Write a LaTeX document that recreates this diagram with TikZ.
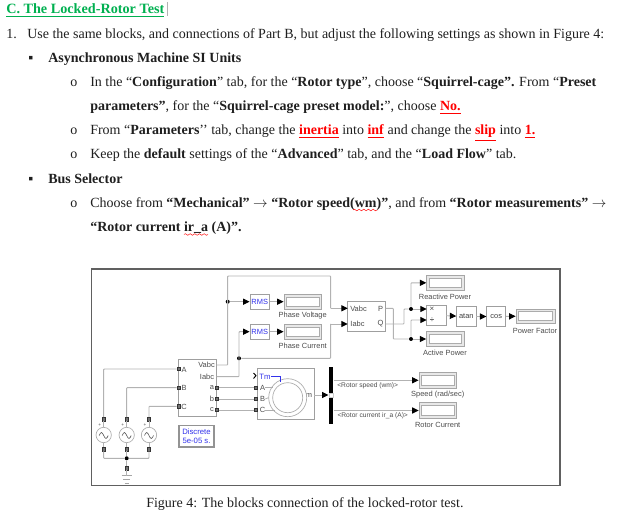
\documentclass[tikz,border=0pt]{standalone}
\usepackage{fontspec}
\setmainfont{Liberation Serif}
\newfontfamily\simfont{Liberation Sans}
\usetikzlibrary{arrows.meta,decorations.pathmorphing}
\definecolor{titlegreen}{RGB}{0,176,80}
\definecolor{simblue}{RGB}{50,50,235}
\newcommand{\redu}[1]{\textcolor{red}{\underline{\textbf{#1}}}}
\tikzset{
  txt/.style={anchor=base west,inner sep=0pt,font=\fontsize{10.5}{12}\selectfont,text=black!88},
  sz/.style 2 args={minimum width=#1*0.75pt,minimum height=#2*0.75pt},
  blk/.style={draw=gray!75,line width=0.6pt,fill=white,inner sep=0pt,font=\simfont\fontsize{5.6}{6}\selectfont,text=black!75},
  disp/.style={blk,draw=gray!70,fill=gray!18,path picture={\draw[gray!65,line width=0.35pt,fill=white]
    ([shift={(2pt,2pt)}]path picture bounding box.south west) rectangle ([shift={(-2pt,-2pt)}]path picture bounding box.north east);}},
  lab/.style={inner sep=0pt,font=\simfont\fontsize{5.6}{6}\selectfont,text=black!70},
  slab/.style={lab,font=\simfont\fontsize{5}{5.5}\selectfont},
  bluelab/.style={lab,text=simblue,font=\simfont\fontsize{5.8}{7}\selectfont},
  wire/.style={draw=gray!60,line width=0.7pt,rounded corners=0.5pt},
  sig/.style={wire,-{Triangle[length=4.8pt,width=4.6pt,black]}},
  port/.style={draw=black!80,fill=black!55,line width=0.5pt,inner sep=0pt,minimum size=2.6pt},
  dot/.style={circle,fill=black,inner sep=0pt,minimum size=3pt},
  src/.style={circle,draw=gray!65,line width=0.5pt,fill=white,minimum size=11.5pt,inner sep=0pt},
}
\begin{document}
\begin{tikzpicture}[x=0.75pt,y=-0.75pt]
\useasboundingbox (0,0) rectangle (625,516);

% document text
\node[txt,font=\fontsize{10.65}{12}\selectfont\bfseries,text=titlegreen] (title) at (6,14) {\underline{C. The Locked-Rotor Test}};
\draw[gray!60,line width=0.4pt] (167,2) -- (167,16);
\node[txt] (n1) at (6,38.5) {1.};
\node[txt] (l1) at (27,38.5) {Use the same blocks, and connections of Part B, but adjust the following settings as shown in Figure 4:};
\node[txt] (b1) at (28,62.7) {\textbf{▪}};
\node[txt] (l2) at (48,62.7) {\textbf{Asynchronous Machine SI Units}};
\node[txt] (o1) at (70,86.7) {o};
\node[txt] (l3) at (90,86.7) {In the “\textbf{Configuration}” tab, for the “\textbf{Rotor type}”, choose “\textbf{Squirrel-cage”.} From “\textbf{Preset}};
\node[txt] (l4) at (90,111) {\textbf{parameters”}, for the “\textbf{Squirrel-cage preset model:}”, choose \redu{No.}};
\node[txt] (o2) at (70,135) {o};
\node[txt] (l5) at (90,135) {From “\textbf{Parameters}’’ tab, change the \redu{inertia} into \redu{inf} and change the \redu{slip} into \redu{1.}};
\node[txt] (o3) at (70,158.7) {o};
\node[txt] (l6) at (90,158.7) {Keep the \textbf{default} settings of the “\textbf{Advanced}” tab, and the “\textbf{Load Flow}” tab.};
\node[txt] (b2) at (28,183.3) {\textbf{▪}};
\node[txt] (l7) at (48,183.3) {\textbf{Bus Selector}};
\node[txt] (o4) at (70,207.7) {o};
\node[txt] (l8) at (90,207.7) {Choose from \textbf{“Mechanical”} $\rightarrow$ \textbf{“Rotor speed(wm)”}, and from \textbf{“Rotor measurements”} $\rightarrow$};
\node[txt] (l9) at (90,231.7) {\textbf{“Rotor current ir\_a (A)”.}};
\draw[red,line width=0.35pt,decorate,decoration={snake,amplitude=0.6pt,segment length=3.5pt}] (353,210) -- (378,210);
\draw[red,line width=0.35pt,decorate,decoration={snake,amplitude=0.6pt,segment length=3.5pt}] (184,234.5) -- (208,234.5);
\node[txt] (cap) at (146,508) {Figure 4: The blocks connection of the locked-rotor test.};

% model frame
\draw[gray!75!black,line width=0.9pt] (91.5,269) rectangle (560,485.5);

% blocks
\node[blk,sz={38}{57.7}] (meas) at (197.7,387.8) {};
\node[blk,sz={19.5}{15.5},text=simblue] (rms1) at (259.7,301.7) {RMS};
\node[blk,sz={19.5}{15.5},text=simblue] (rms2) at (259.7,331.7) {RMS};
\node[disp,sz={37.7}{15}] (dV) at (302.8,301.7) {};
\node[disp,sz={37.7}{15}] (dI) at (302.8,331.7) {};
\node[blk,sz={38}{30.7}] (pq) at (366.7,316.3) {};
\node[disp,sz={37.3}{14.5}] (dQ) at (445.3,282.8) {};
\node[blk,sz={19.3}{20.7}] (prod) at (436.3,315.3) {};
\node[disp,sz={37.3}{14.5}] (dP) at (445.3,339) {};
\node[blk,sz={19.3}{19.6}] (atan) at (466.3,316.5) {atan};
\node[blk,sz={19}{19.6}] (cos) at (496.2,316.5) {cos};
\node[disp,sz={39}{14}] (dF) at (535.5,316) {};
\node[blk,sz={56.7}{50.7}] (mach) at (285.7,393.7) {};
\node[draw=none,fill=black,inner sep=0pt,sz={4.6}{57.3}] (bus) at (331,395.3) {};
\node[disp,sz={37.7}{15.3}] (dS) at (437.8,380.3) {};
\node[disp,sz={37.7}{15.6}] (dC) at (437.8,410.5) {};
\node[blk,sz={35}{21.3},draw=gray!85,line width=0.9pt,align=center,text=simblue,font=\simfont\fontsize{5.8}{6.8}\selectfont] (disc) at (196.5,436.3) {Discrete\\5e-05 s.};

% block and display labels
\node[lab] (tA) at (184,369.5) {A};
\node[lab] (tB) at (184,388) {B};
\node[lab] (tC) at (184,406.5) {C};
\node[lab] (tV) at (206.5,365) {Vabc};
\node[lab] (tI) at (207,376.7) {Iabc};
\node[lab] (ta) at (212,388) {a};
\node[lab] (tb) at (212,399) {b};
\node[lab] (tc) at (212,410) {c};
\node[lab] (lpv) at (302.7,316) {Phase Voltage};
\node[lab] (lpc) at (302.7,345.7) {Phase Current};
\node[lab] (pqV) at (358.5,308.5) {Vabc};
\node[lab] (pqI) at (357.5,324) {Iabc};
\node[lab] (pqP) at (380.5,308.5) {P};
\node[lab] (pqQ) at (380.5,324) {Q};
\node[lab] (lrp) at (445,297) {Reactive Power};
\node[lab] (lap) at (445,353) {Active Power};
\node[lab] (lpf) at (535,330.7) {Power Factor};
\node[lab,font=\simfont\fontsize{6}{7}\selectfont] (ptimes) at (432,309.5) {×};
\node[lab,font=\simfont\fontsize{6}{7}\selectfont,text=black] (pdiv) at (432,320.5) {÷};
\node[lab] (lsp) at (437.7,394.5) {Speed (rad/sec)};
\node[lab] (lrc) at (437.7,424.5) {Rotor Current};
\node[slab] (sigw) at (367.7,385.7) {<Rotor speed (wm)>};
\node[slab] (sigi) at (372.7,416) {<Rotor current ir\_a (A)>};
\node[lab] (mA) at (262.5,387.7) {A};
\node[lab] (mB) at (262.5,399) {B};
\node[lab] (mC) at (262.5,410) {C};
\node[lab] (mm) at (309,395) {m};
\node[bluelab] (tm) at (265,376.7) {Tm};

% machine body
\node[circle,draw=gray!65,line width=0.5pt,fill=white,minimum size=28.5pt,inner sep=0pt] (rotor) at (287.7,397.7) {};
\node[circle,draw=gray!65,line width=0.5pt,fill=white,minimum size=22.5pt,inner sep=0pt] (stator) at (287.7,397.7) {};
\draw[simblue,line width=0.6pt] (tm.east) -| (280.7,382.5);
\draw[black,line width=0.7pt] (253.5,373) -- (256,375.7) -- (253.5,378.5);
\draw[gray!65,line width=0.5pt] (mB.east) -- (rotor.west);
\draw[gray!65,line width=0.5pt] (mA.east) -- (273,387.7);
\draw[gray!65,line width=0.5pt] (mC.east) -- (275,410);

% sources and ground
\node[src] (s1) at (103.7,435) {};
\node[src] (s2) at (126.7,435) {};
\node[src] (s3) at (149,435) {};
\foreach \s in {s1,s2,s3}{
  \draw[gray!70!black,line width=0.45pt] (\s.center) ++(-4.5,0.5) sin ++(2.2,-3) cos ++(2.3,3) sin ++(2.3,3) cos ++(2.2,-3);
  \node[lab,font=\simfont\fontsize{3.5}{4}\selectfont] at ([xshift=-3pt,yshift=7.5pt]\s.center) {+};
}
\foreach \n/\x in {p1/103.7,p2/126.7,p3/149}{
  \node[port] (\n t) at (\x,419.3) {};
  \node[port] (\n b) at (\x,449.3) {};
}
\node[port] (pg) at (126.7,468.3) {};
\node[dot] (jg) at (126.7,458.3) {};
\coordinate (gnd) at (126.7,475.7);
\draw[gray!70,line width=0.5pt] (121.5,475.7) -- (131.9,475.7) (123,479.5) -- (130.4,479.5) (124.7,483) -- (128.7,483);

% ports on measurement and machine
\node[port] (mpA) at (178.7,369) {};
\node[port] (mpB) at (178.7,387.7) {};
\node[port] (mpC) at (178.7,406.3) {};
\node[port] (mpa) at (217,387.7) {};
\node[port] (mpb) at (217,399) {};
\node[port] (mpc) at (217,410) {};
\node[port] (spA) at (256,387.7) {};
\node[port] (spB) at (256,399) {};
\node[port] (spC) at (256,410) {};
\node[draw=gray!40,fill=white,line width=0.3pt,inner sep=0pt,minimum size=2.6pt] (busin) at (331,395) {};
\coordinate (outV) at (216.7,365);
\coordinate (outI) at (216.7,376.7);
\coordinate (inV) at (347.7,308.3);
\coordinate (inI) at (347.7,324);
\coordinate (outP) at (385.7,308.3);
\coordinate (outQ) at (385.7,324);
\coordinate (prodA) at (426.7,309);
\coordinate (prodB) at (426.7,320);
\coordinate (kV) at (330.7,308.3);
\coordinate (kI) at (330.7,324);
\node[dot] (jV) at (227.7,301.7) {};
\node[dot] (jI) at (239,358.3) {};
\node[dot] (jP) at (411,339) {};
\node[dot] (jQ) at (411,309) {};

% connectors
\draw[wire] (p1t) |- (mpA);
\draw[wire] (p2t) |- (mpB);
\draw[wire] (p3t) |- (mpC);
\draw[wire] (p1b) |- (jg) -| (p3b);
\draw[wire] (p2b) -- (jg) -- (pg);
\draw[wire] (pg) -- (gnd);
\draw[wire] (s1) -- (p1t) (s1) -- (p1b) (s2) -- (p2t) (s2) -- (p2b) (s3) -- (p3t) (s3) -- (p3b);
\draw[wire] (mpa) -- (spA);
\draw[wire] (mpb) -- (spB);
\draw[wire] (mpc) -- (spC);
\draw[wire] (outV) -- (227.7,365) -- (227.7,276) -- (330.7,276) -- (kV);
\draw[sig] (kV) -- (inV);
\draw[sig] (jV) -- (rms1);
\draw[sig] (outI) -- (239,376.7) -- (239,331.7) -- (rms2);
\draw[wire] (jI) -| (kI);
\draw[sig] (kI) -- (inI);
\draw[sig] (rms1) -- (dV);
\draw[sig] (rms2) -- (dI);
\draw[wire] (outP) -- (393.3,308.3) -- (393.3,339) -- (jP);
\draw[sig] (jP) -- (dP);
\draw[sig] (jP) -- (411,320) -- (prodB);
\draw[wire] (outQ) -- (404,324) -- (404,309) -- (jQ);
\draw[sig] (jQ) -- (prodA);
\draw[sig] (jQ) -- (411,282.8) -- (dQ);
\draw[sig] (prod) -- (atan);
\draw[sig] (atan) -- (cos);
\draw[sig] (cos) -- (dF);
\draw[sig] (mach.east |- mm) -- (bus.west |- mm);
\draw[sig] (bus.east |- dS) -- (dS);
\draw[sig] (bus.east |- dC) -- (dC);
\end{tikzpicture}
\end{document}
